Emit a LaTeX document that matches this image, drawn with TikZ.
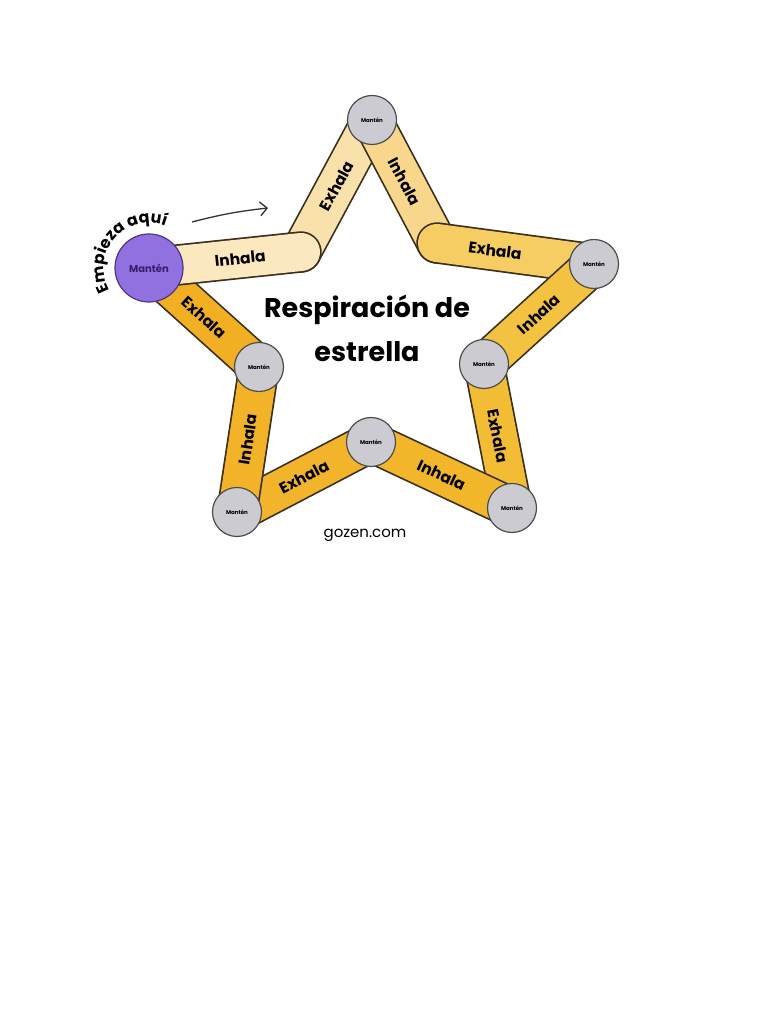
\documentclass[tikz,border=0pt]{standalone}
\usepackage{fontspec}
\setmainfont{Poppins}
\usetikzlibrary{decorations.text,arrows.meta}

\definecolor{barline}{HTML}{3A2E1C}
\definecolor{haltgray}{HTML}{CBCBD1}
\definecolor{startpurple}{HTML}{9171DF}
\definecolor{startline}{HTML}{4B3585}
\definecolor{startink}{HTML}{35206E}
\definecolor{bar1}{HTML}{FBE8BE}
\definecolor{bar2}{HTML}{F9E1AC}
\definecolor{bar3}{HTML}{F8D78C}
\definecolor{bar4}{HTML}{F6CD62}
\definecolor{bar5}{HTML}{F4C241}
\definecolor{bar6}{HTML}{F3BC35}
\definecolor{bar7}{HTML}{F2B62B}
\definecolor{bar8}{HTML}{F2B42A}
\definecolor{bar9}{HTML}{F2B328}
\definecolor{bar10}{HTML}{F1B024}

\begin{document}
\begin{tikzpicture}[x=1pt,y=1pt,
  halt/.style={circle,draw=black!70,line width=1.2pt,fill=haltgray,minimum size=49pt,inner sep=0pt,font=\bfseries\fontsize{5.5}{6}\selectfont},
  breath/.style={line width=1.7pt,draw=barline,double distance=38pt,line cap=round,double=#1},
  breathtext/.style={midway,sloped,font=\bfseries\fontsize{15.5}{15.5}\selectfont}]
\useasboundingbox (0,0) rectangle (768,1024);
\fill[white] (0,0) rectangle (768,1024);

%Star points
\coordinate (start) at (149,756);
\coordinate (top) at (372,904);
\coordinate (rightup) at (594,760);
\coordinate (rightin) at (484,660);
\coordinate (rightlow) at (512,516);
\coordinate (bottom) at (371,582);
\coordinate (leftlow) at (237,512);
\coordinate (leftin) at (259,657);
\coordinate (elbowA) at (301,772);
\coordinate (elbowB) at (437,781);

%Drawing bars
\draw[breath=bar10] (leftin) -- node[breathtext]{Exhala} (start);
\draw[breath=bar2] (elbowA) -- node[breathtext]{Exhala} (top);
\draw[breath=bar1] (start) -- node[breathtext,pos=0.6]{Inhala} (elbowA);
\draw[breath=bar3] (top) -- node[breathtext]{Inhala} (elbowB);
\draw[breath=bar4] (elbowB) -- node[breathtext,pos=0.37]{Exhala} (rightup);
\draw[breath=bar5] (rightup) -- node[breathtext]{Inhala} (rightin);
\draw[breath=bar6] (rightin) -- node[breathtext]{Exhala} (rightlow);
\draw[breath=bar7] (rightlow) -- node[breathtext]{Inhala} (bottom);
\draw[breath=bar8] (bottom) -- node[breathtext]{Exhala} (leftlow);
\draw[breath=bar9] (leftlow) -- node[breathtext]{Inhala} (leftin);

%Hold circles
\node[halt] (h1) at (top) {Mantén};
\node[halt] (h2) at (rightup) {Mantén};
\node[halt] (h3) at (rightin) {Mantén};
\node[halt] (h4) at (rightlow) {Mantén};
\node[halt] (h5) at (bottom) {Mantén};
\node[halt] (h6) at (leftlow) {Mantén};
\node[halt] (h7) at (leftin) {Mantén};
\node[halt,minimum size=68pt,fill=startpurple,draw=startline,text=startink,font=\bfseries\fontsize{10}{10}\selectfont] (h0) at (start) {Mantén};

%Start hint
\path[decorate,decoration={text along path,text align=center,
  text={|\bfseries\fontsize{16}{16}\selectfont|Empieza aquí}}]
  ([shift={(218:45)}]h0.center) arc[start angle=218,end angle=60,radius=45];
\coordinate (arrowtail) at (192,802);
\coordinate (arrowtip) at (268,816);
\draw[-{Straight Barb[length=7pt,width=14pt]},line width=1.3pt,black!80] (arrowtail) to[bend left=4] (arrowtip);

%Title
\node[align=center,font=\bfseries\fontsize{27}{44}\selectfont] (title) at (367,696) {Respiración de\\estrella};
\node[font=\fontsize{15}{15}\selectfont] (brand) at (365,489) {gozen.com};
\end{tikzpicture}
\end{document}
